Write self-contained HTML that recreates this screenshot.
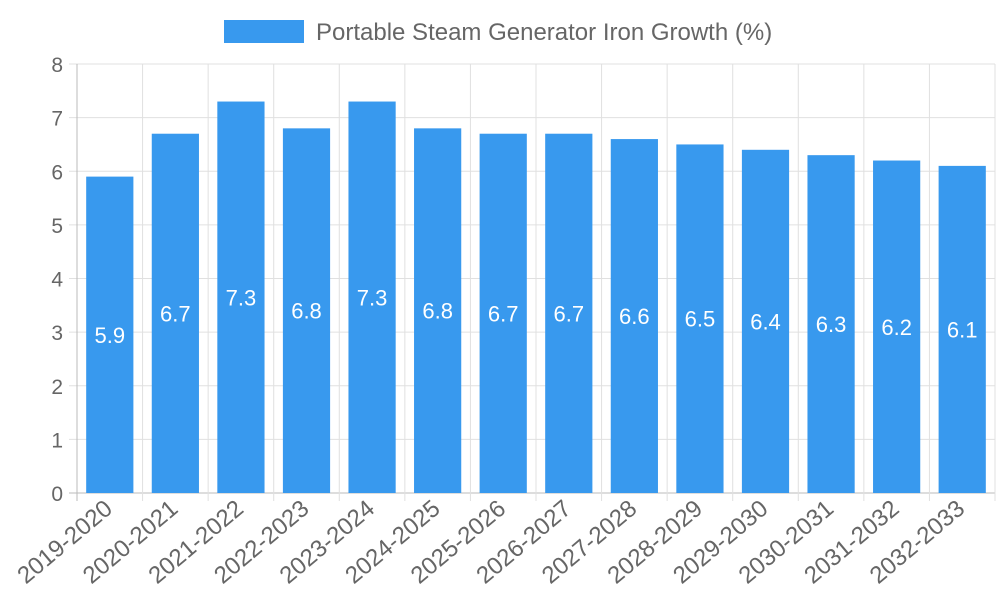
<!DOCTYPE html>
<html><head><meta charset="utf-8"><style>
html,body{margin:0;padding:0;background:#fff;width:1000px;height:600px;overflow:hidden}
text{font-family:"Liberation Sans",sans-serif}
</style></head><body>
<svg id="chart" width="1000" height="600" xmlns="http://www.w3.org/2000/svg">
<g id="legend">
<rect x="224" y="20" width="80" height="23" fill="#3899ee"/>
<text x="316" y="40" font-size="24" fill="#666">Portable Steam Generator Iron Growth (%)</text>
</g>
<g id="grid"></g><g id="bars"></g><g id="axes"></g>
</svg>
<script>
const categories=["2019-2020","2020-2021","2021-2022","2022-2023","2023-2024","2024-2025","2025-2026","2026-2027","2027-2028","2028-2029","2029-2030","2030-2031","2031-2032","2032-2033"];
const values=[5.9,6.7,7.3,6.8,7.3,6.8,6.7,6.7,6.6,6.5,6.4,6.3,6.2,6.1];
const yTicks=[0,1,2,3,4,5,6,7,8];
const NS="http://www.w3.org/2000/svg";
const L=77,R=995,T=64,B=493,yMax=8;
const bw=(R-L)/categories.length;
const y=v=>B-(v/yMax)*(B-T);
const x=i=>L+bw*i;
function mk(tag,attrs,parent){const e=document.createElementNS(NS,tag);for(const k in attrs)e.setAttribute(k,attrs[k]);parent.appendChild(e);return e;}
const grid=document.getElementById('grid'),bars=document.getElementById('bars'),axes=document.getElementById('axes');
yTicks.forEach(t=>{
  const l=mk('line',{x1:L-8,x2:R,y1:y(t),y2:y(t),stroke:t===0?'#bbb':'#e0e0e0','stroke-width':1},grid);
  
  
  const tx=mk('text',{x:L-14,y:y(t)+8,'text-anchor':'end','font-size':21,fill:'#666'},axes);
  tx.textContent=t;
  
  
});
for(let i=0;i<=categories.length;i++){
  const l=mk('line',{x1:x(i),x2:x(i),y1:T,y2:B+8,stroke:i===0?'#bbb':'#e0e0e0','stroke-width':1},grid);
  
  
}
categories.forEach((c,i)=>{
  const w=bw*0.72,cx=x(i)+bw/2;
  const r=mk('rect',{x:cx-w/2,y:y(values[i]),width:w,height:B-y(values[i]),fill:'#3899ee'},bars);
  
  
  const v=mk('text',{x:cx,y:(y(values[i])+B)/2+8,'text-anchor':'middle','font-size':22,fill:'#fff'},bars);
  v.textContent=values[i];
  
  
  const tl=mk('text',{x:cx+4,y:B+18,'text-anchor':'end','font-size':24,fill:'#666',transform:`rotate(-40 ${cx+4} ${B+18})`},axes);
  tl.textContent=c;
  
  
});
</script>
</body></html>
